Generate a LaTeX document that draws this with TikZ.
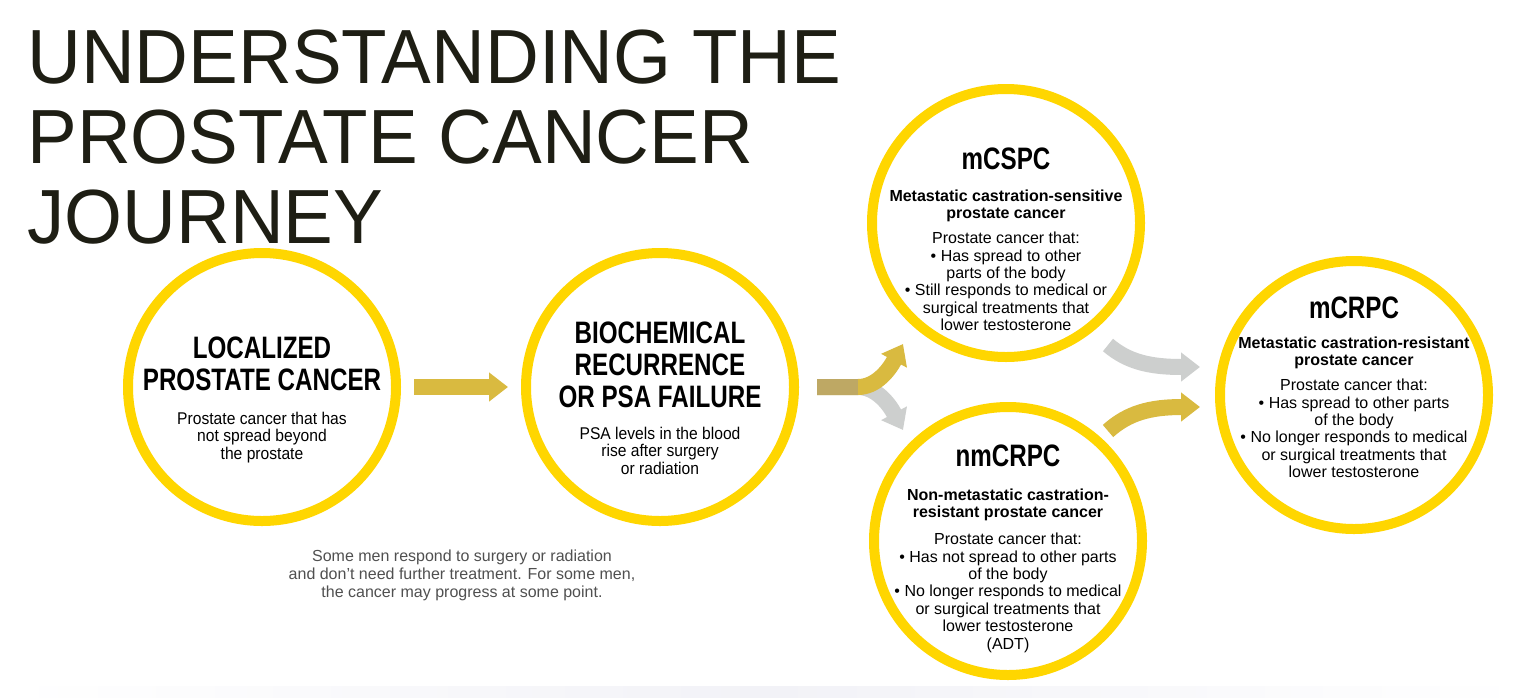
\documentclass[tikz,border=0pt]{standalone}
\usepackage{fontspec}
\setmainfont{Liberation Sans}
\newfontfamily\condfont[FakeStretch=0.78]{Liberation Sans}
\newfontfamily\narrowfont[FakeStretch=0.92]{Liberation Sans}
\newfontfamily\titlefont[FakeStretch=0.97]{Liberation Sans}
\usepackage{tikz}
\usetikzlibrary{positioning,arrows.meta}
\definecolor{ringyellow}{RGB}{255,214,0}
\definecolor{arrowgold}{RGB}{217,186,64}
\definecolor{arrowgrey}{RGB}{205,207,206}
\definecolor{forkkhaki}{RGB}{190,168,100}
\definecolor{titleink}{RGB}{30,30,20}
\definecolor{noteink}{RGB}{80,80,80}
\definecolor{bandgrey}{RGB}{242,242,247}

\begin{document}
\begin{tikzpicture}[x=0.5pt, y=-0.5pt,
ring/.style={circle, draw=ringyellow, line width=5pt, minimum size=134pt, inner sep=0pt, outer sep=0pt},
headtxt/.style={font=\condfont\bfseries\fontsize{15.5}{16}\selectfont, align=center, inner sep=0pt},
bodytxt/.style={font=\narrowfont\fontsize{8.5}{8.75}\selectfont, align=center, inner sep=0pt},
subtxt/.style={font=\bfseries\fontsize{8}{8.6}\selectfont, align=center, inner sep=0pt},
listtxt/.style={font=\fontsize{8}{8.7}\selectfont, align=center, inner sep=0pt},
goldarrow/.style={draw=arrowgold, line width=8pt, -{Triangle[length=9.5pt,width=14pt]}},
greyarrow/.style={draw=arrowgrey, line width=8pt, -{Triangle[length=9.5pt,width=14pt]}}]
\useasboundingbox (0,0) rectangle (1537,697);
\fill[white] (0,0) rectangle (1537,697);
\shade[left color=white, right color=white, middle color=bandgrey] (10,686) rectangle (1527,697);

\node[anchor=north west, inner sep=0pt, align=left, text=titleink,
  font=\titlefont\fontsize{38.4}{40}\selectfont] (title) at (27,29)
  {UNDERSTANDING THE\\PROSTATE CANCER\\JOURNEY};

\node[ring] (loc) at (262,387) {};
\node[ring] (bio) at (660,387) {};
\node[ring] (mcspc) at (1006,223) {};
\node[ring] (nmcrpc) at (1008,541) {};
\node[ring] (mcrpc) at (1354,395) {};

\node[headtxt, anchor=north] (loc-h) at (262,336) {LOCALIZED\\PROSTATE CANCER};
\node[bodytxt, below=10.5pt of loc-h] (loc-b) {Prostate cancer that has\\not spread beyond\\the prostate};

\node[headtxt, anchor=north] (bio-h) at (660,321) {BIOCHEMICAL\\RECURRENCE\\OR PSA FAILURE};
\node[bodytxt, below=9.5pt of bio-h] (bio-b) {PSA levels in the blood\\rise after surgery\\or radiation};

\node[headtxt, anchor=north] (mcspc-h) at (1006,147) {mCSPC};
\node[subtxt, below=10pt of mcspc-h] (mcspc-s) {Metastatic castration-sensitive\\prostate cancer};
\node[listtxt, below=4.5pt of mcspc-s] (mcspc-b) {Prostate cancer that:\\• Has spread to other\\parts of the body\\• Still responds to medical or\\surgical treatments that\\lower testosterone};

\node[headtxt, anchor=north] (nmcrpc-h) at (1008,444) {nmCRPC};
\node[subtxt, below=11pt of nmcrpc-h] (nmcrpc-s) {Non-metastatic castration-\\resistant prostate cancer};
\node[listtxt, below=5.5pt of nmcrpc-s] (nmcrpc-b) {Prostate cancer that:\\• Has not spread to other parts\\of the body\\• No longer responds to medical\\or surgical treatments that\\lower testosterone\\(ADT)};

\node[headtxt, anchor=north] (mcrpc-h) at (1354,296) {mCRPC};
\node[subtxt, below=9pt of mcrpc-h] (mcrpc-s) {Metastatic castration-resistant\\prostate cancer};
\node[listtxt, below=4.5pt of mcrpc-s] (mcrpc-b) {Prostate cancer that:\\• Has spread to other parts\\of the body\\• No longer responds to medical\\or surgical treatments that\\lower testosterone};

\node[font=\fontsize{8}{9}\selectfont, text=noteink, align=center, anchor=north, inner sep=0pt] (note) at (462,549)
  {Some men respond to surgery or radiation\\and don’t need further treatment. For some men,\\the cancer may progress at some point.};

\draw[goldarrow, shorten <=9pt, shorten >=9pt] (loc) -- (bio);

\coordinate (fork) at (817,387);
\coordinate (forkbend) at (858,387);
\coordinate (upend) at (903,344);
\coordinate (downend) at (903,430);
\draw[greyarrow] (fork) -- (forkbend) .. controls (875,387) and (888,402) .. (downend);
\draw[goldarrow] (fork) -- (forkbend) .. controls (875,387) and (888,372) .. (upend);
\draw[draw=forkkhaki, line width=8pt] (fork) -- (forkbend);

\coordinate (g-start) at (1108,345);
\coordinate (g-end) at (1200,367);
\coordinate (y-start) at (1108,431);
\coordinate (y-end) at (1200,407);
\draw[greyarrow] (g-start) .. controls (1128,362) and (1150,367) .. (g-end);
\draw[goldarrow] (y-start) .. controls (1128,413) and (1150,407) .. (y-end);
\end{tikzpicture}
\end{document}
